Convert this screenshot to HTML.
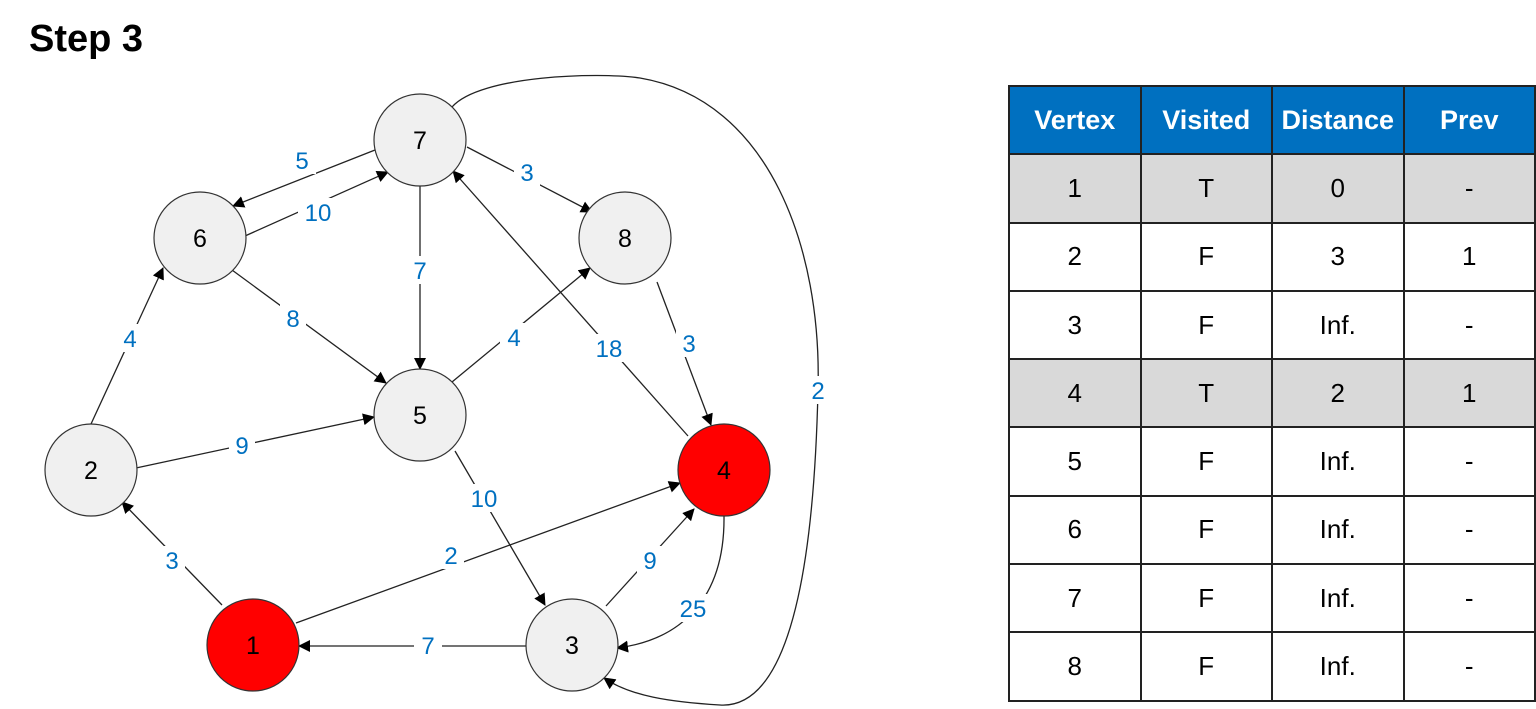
<!DOCTYPE html>
<html><head><style>
body{margin:0;width:1536px;height:709px;background:#fff;overflow:hidden;font-family:"Liberation Sans",sans-serif;position:relative}
h1{position:absolute;left:29px;top:18px;margin:0;font-size:38px;font-weight:bold}
table{position:absolute;left:1008px;top:85px;border-collapse:collapse;table-layout:fixed;width:528px}
td,th{border:2px solid #222;height:68.3px;text-align:center;font-size:26px;padding:0;box-sizing:border-box}
th{background:#0070C0;color:#fff;font-weight:bold;font-size:27px}
tr.g td{background:#d9d9d9}
</style></head><body>
<h1>Step 3</h1>
<svg width="1000" height="709" style="position:absolute;left:0;top:0" font-family="Liberation Sans, sans-serif">
<defs><marker id="a" markerWidth="12" markerHeight="12" refX="11" refY="6" orient="auto" markerUnits="userSpaceOnUse"><path d="M0,0 L12,6 L0,12z" fill="#000"/></marker></defs>
<g stroke="#222" stroke-width="1.3" fill="none" marker-end="url(#a)">
<line x1="375" y1="150" x2="233" y2="206"/>
<line x1="245" y1="236" x2="388" y2="172"/>
<line x1="467" y1="147" x2="592" y2="212"/>
<line x1="420" y1="186" x2="420" y2="369"/>
<line x1="232" y1="270" x2="386" y2="383"/>
<line x1="91" y1="424" x2="163" y2="268"/>
<line x1="452" y1="382" x2="590" y2="268"/>
<line x1="688" y1="436" x2="453" y2="171"/>
<line x1="657" y1="282" x2="711" y2="425"/>
<line x1="136" y1="468" x2="374" y2="417"/>
<line x1="455" y1="451" x2="545" y2="605"/>
<line x1="222" y1="605" x2="122" y2="502"/>
<line x1="296" y1="623" x2="680" y2="483"/>
<line x1="606" y1="606" x2="694" y2="509"/>
<path d="M724,516 C725,600 680,640 617,648"/>
<line x1="528" y1="646" x2="299" y2="646"/>
<path d="M452,107 C480,75 600,72 640,78 C770,100 822,250 818,390 C815,520 800,710 720,705 C670,702 630,696 604,678"/>
</g>
<g fill="#fff" stroke="#333" stroke-width="1.2">
<circle cx="420" cy="140" r="46" fill="#f0f0f0"/>
<circle cx="200" cy="238" r="46" fill="#f0f0f0"/>
<circle cx="625" cy="238" r="46" fill="#f0f0f0"/>
<circle cx="420" cy="415" r="46" fill="#f0f0f0"/>
<circle cx="91" cy="470" r="46" fill="#f0f0f0"/>
<circle cx="724" cy="470" r="46" fill="#ff0000"/>
<circle cx="253" cy="645" r="46" fill="#ff0000"/>
<circle cx="572" cy="645" r="46" fill="#f0f0f0"/>
</g>
<g font-size="25" text-anchor="middle" fill="#000">
<text x="420" y="149">7</text><text x="200" y="247">6</text><text x="625" y="247">8</text>
<text x="420" y="424">5</text><text x="91" y="479">2</text><text x="724" y="479">4</text>
<text x="253" y="654">1</text><text x="572" y="654">3</text>
</g>
<g font-size="24" text-anchor="middle" fill="#0070C0">
<g fill="#fff"><rect x="288" y="146" width="28" height="28"/><rect x="298" y="198" width="40" height="28"/><rect x="514" y="158" width="26" height="28"/><rect x="406" y="256" width="28" height="28"/><rect x="280" y="304" width="26" height="28"/><rect x="117" y="324" width="26" height="28"/><rect x="500" y="323" width="28" height="28"/><rect x="589" y="334" width="40" height="28"/><rect x="676" y="329" width="26" height="28"/><rect x="229" y="431" width="26" height="28"/><rect x="464" y="484" width="40" height="28"/><rect x="159" y="546" width="26" height="28"/><rect x="438" y="541" width="26" height="28"/><rect x="637" y="546" width="26" height="28"/><rect x="673" y="594" width="40" height="28"/><rect x="414" y="631" width="28" height="28"/><rect x="805" y="376" width="26" height="28"/></g>
<text x="302" y="169">5</text><text x="318" y="221">10</text><text x="527" y="181">3</text>
<text x="420" y="279">7</text><text x="293" y="327">8</text><text x="130" y="347">4</text>
<text x="514" y="346">4</text><text x="609" y="357">18</text><text x="689" y="352">3</text>
<text x="242" y="454">9</text><text x="484" y="507">10</text><text x="172" y="569">3</text>
<text x="451" y="564">2</text><text x="650" y="569">9</text><text x="693" y="617">25</text>
<text x="428" y="654">7</text><text x="818" y="399">2</text>
</g>
</svg>
<table>
<tr><th>Vertex</th><th>Visited</th><th>Distance</th><th>Prev</th></tr>
<tr class="g"><td>1</td><td>T</td><td>0</td><td>-</td></tr>
<tr><td>2</td><td>F</td><td>3</td><td>1</td></tr>
<tr><td>3</td><td>F</td><td>Inf.</td><td>-</td></tr>
<tr class="g"><td>4</td><td>T</td><td>2</td><td>1</td></tr>
<tr><td>5</td><td>F</td><td>Inf.</td><td>-</td></tr>
<tr><td>6</td><td>F</td><td>Inf.</td><td>-</td></tr>
<tr><td>7</td><td>F</td><td>Inf.</td><td>-</td></tr>
<tr><td>8</td><td>F</td><td>Inf.</td><td>-</td></tr>
</table>
</body></html>
